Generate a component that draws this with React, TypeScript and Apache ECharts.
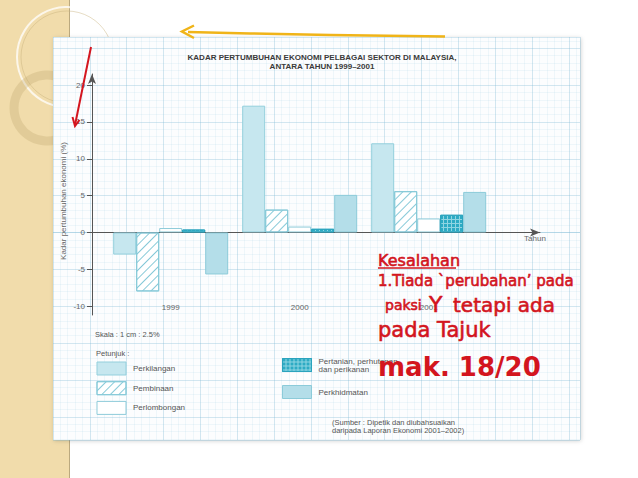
import React, { useEffect, useRef } from "react";
import * as echarts from "echarts";

// ---- data ----
const years = ["1999", "2000", "2001"];
const perkilangan = [-3.0, 17.2, 12.1];
const pembinaan = [-8.0, 3.1, 5.6];
const perlombongan = [0.6, 0.8, 1.9];
const pertanian = [0.4, 0.5, 2.4];
const perkhidmatan = [-5.7, 5.1, 5.5];
const yTicks = [-10, -5, 0, 5, 10, 15, 20];

const N_KILANG = "Perkilangan";
const N_BINA = "Pembinaan";
const N_LOMBONG = "Perlombongan";
const N_TANI = "Pertanian, perhutanan\ndan perikanan";
const N_KHIDMAT = "Perkhidmatan";

const FONT = '"Liberation Sans", Arial, sans-serif';
const HAND = '"Comic Sans MS", "DejaVu Sans", sans-serif';
const RED = "#d3151e";

const MAJOR = "rgba(120,185,210,0.32)";
const MINOR = "rgba(150,200,222,0.13)";

const paperX = (gi: number) => ({
  gridIndex: gi,
  type: "value",
  min: 0,
  max: 71.5,
  interval: 5,
  axisLine: { show: false },
  axisTick: { show: false },
  axisLabel: { show: false },
  minorTick: { show: false, splitNumber: 5 },
  splitLine: { show: true, lineStyle: { color: MAJOR, width: 1 } },
  minorSplitLine: { show: true, lineStyle: { color: MINOR, width: 1 } },
});
const paperY = (gi: number, max: number, inverse: boolean) => ({
  gridIndex: gi,
  type: "value",
  min: 0,
  max,
  inverse,
  interval: 5,
  axisLine: { show: false },
  axisTick: { show: false },
  axisLabel: { show: false },
  minorTick: { show: false, splitNumber: 5 },
  splitLine: { show: true, lineStyle: { color: MAJOR, width: 1 } },
  minorSplitLine: { show: true, lineStyle: { color: MINOR, width: 1 } },
});

const txt = (text: string, x: number, y: number, font: string, fill: string, align = "left", extra: any = {}, styleExtra: any = {}) => ({
  type: "text",
  x,
  y,
  z: 50,
  ...extra,
  style: { text, font, fill, textAlign: align, textVerticalAlign: "middle", ...styleExtra },
});
const hand = (text: string, x: number, y: number, size: number, bold = false) =>
  txt(text, x, y, `${bold ? "bold " : ""}${size}px ${HAND}`, RED, "left", { z: 100 }, bold ? {} : { stroke: RED, lineWidth: 0.6 });

export default function App() {
  const ref = useRef<HTMLDivElement>(null);
  useEffect(() => {
    if (!ref.current) return;
    const chart = echarts.init(ref.current, undefined, { renderer: "svg" });
    const barBase = { type: "bar", xAxisIndex: 1, yAxisIndex: 1, barWidth: 23, barGap: "0%" };
    const option: any = {
      animation: false,
      backgroundColor: "#ffffff",
      grid: [
        { left: 92, right: 98, top: 74, bottom: 163 },
        { left: 106.2, right: 144.8, top: 74, bottom: 163 },
        { left: 53, right: 58, top: 37, bottom: 245.5 },
        { left: 53, right: 58, top: 232.5, bottom: 38 },
      ],
      xAxis: [
        {
          gridIndex: 0,
          type: "value",
          min: 0,
          max: 1,
          axisLine: {
            show: true,
            onZero: true,
            symbol: ["none", "arrow"],
            symbolSize: [6, 10],
            lineStyle: { color: "#555", width: 1 },
          },
          axisTick: { show: false },
          axisLabel: { show: false },
          splitLine: { show: false },
        },
        {
          gridIndex: 1,
          type: "category",
          data: years,
          axisLine: { show: false, onZero: false },
          axisTick: { show: false },
          axisLabel: { inside: true, margin: 4, fontSize: 8, color: "#666", fontFamily: FONT },
          splitLine: { show: false },
        },
        paperX(2),
        paperX(3),
      ],
      yAxis: [
        {
          gridIndex: 0,
          type: "value",
          min: -11.2,
          max: 21.5,
          axisLine: {
            show: true,
            symbol: ["none", "arrow"],
            symbolSize: [6, 10],
            lineStyle: { color: "#555", width: 1 },
          },
          axisTick: { show: true, length: 5, customValues: yTicks, lineStyle: { color: "#555" } },
          axisLabel: { customValues: yTicks, fontSize: 8, color: "#666", margin: 7, fontFamily: FONT },
          splitLine: { show: false },
        },
        { gridIndex: 1, type: "value", min: -11.2, max: 21.5, show: false },
        paperY(2, 26.53, false),
        paperY(3, 28.15, true),
      ],
      legend: [
        {
          data: [N_KILANG, N_BINA, N_LOMBONG],
          orient: "vertical",
          left: 96.5,
          top: 361.5,
          padding: 0,
          itemWidth: 29,
          itemHeight: 13,
          itemGap: 5.7,
          icon: "rect",
          selectedMode: false,
          itemStyle: { borderWidth: 1 },
          textStyle: { fontSize: 8, color: "#555", fontFamily: FONT, padding: [0, 0, 0, 2] },
        },
        {
          data: [N_TANI, N_KHIDMAT],
          orient: "vertical",
          left: 282,
          top: 357,
          padding: 0,
          itemWidth: 29,
          itemHeight: 13,
          itemGap: 12,
          icon: "rect",
          selectedMode: false,
          itemStyle: { borderWidth: 1 },
          textStyle: { fontSize: 8, lineHeight: 8, color: "#555", fontFamily: FONT, padding: [0, 0, 0, 2] },
        },
      ],
      series: [
        {
          ...barBase,
          name: N_KILANG,
          data: perkilangan,
          itemStyle: { color: "#c6e7ef", borderColor: "#93cfdc", borderWidth: 1 },
        },
        {
          ...barBase,
          name: N_BINA,
          data: pembinaan,
          itemStyle: {
            color: "#ffffff",
            borderColor: "#86c9d8",
            borderWidth: 1,
            decal: {
              symbol: "rect",
              color: "#86c9d8",
              dashArrayX: [1, 0],
              dashArrayY: [1, 5],
              rotation: -Math.PI / 4,
            },
          },
        },
        {
          ...barBase,
          name: N_LOMBONG,
          data: perlombongan,
          itemStyle: { color: "#ffffff", borderColor: "#8dcbd9", borderWidth: 1 },
        },
        {
          ...barBase,
          name: N_TANI,
          data: pertanian,
          itemStyle: {
            color: "#8fd5e2",
            borderColor: "#2aa3bd",
            borderWidth: 1,
            decal: {
              symbol: "rect",
              symbolSize: 1,
              color: "#2eabc4",
              dashArrayX: [3, 1],
              dashArrayY: [3, 1],
            },
          },
        },
        {
          ...barBase,
          name: N_KHIDMAT,
          data: perkhidmatan,
          itemStyle: { color: "#b4dee9", borderColor: "#8ccbd9", borderWidth: 1 },
        },
      ],
      graphic: [
        // slide background strip
        { type: "rect", z: -100, shape: { x: 0, y: 0, width: 70, height: 478 }, style: { fill: "#f1dcab" } },
        { type: "line", z: -99, shape: { x1: 69.5, y1: 0, x2: 69.5, y2: 478 }, style: { stroke: "#bba97f", lineWidth: 1 } },
        { type: "circle", z: -99, shape: { cx: 67, cy: 57, r: 50 }, style: { fill: "none", stroke: "rgba(255,255,255,0.75)", lineWidth: 2 } },
        { type: "circle", z: -99, shape: { cx: 67, cy: 57, r: 46 }, style: { fill: "none", stroke: "rgba(200,178,125,0.45)", lineWidth: 1 } },
        { type: "circle", z: -99, shape: { cx: 47, cy: 108, r: 33 }, style: { fill: "none", stroke: "rgba(190,165,110,0.3)", lineWidth: 9 } },
        // paper
        {
          type: "rect",
          z: -98,
          shape: { x: 53, y: 37, width: 527, height: 403 },
          style: { fill: "#fcfdfe", shadowBlur: 4, shadowColor: "rgba(0,0,0,0.18)", shadowOffsetX: 1, shadowOffsetY: 1 },
        },
        // chart texts
        txt("KADAR PERTUMBUHAN EKONOMI PELBAGAI SEKTOR DI MALAYSIA,", 322, 57, `bold 8px ${FONT}`, "#3a3a3a", "center"),
        txt("ANTARA TAHUN 1999\u20132001", 322, 66, `bold 8px ${FONT}`, "#3a3a3a", "center"),
        txt("Kadar pertumbuhan ekonomi (%)", 63, 201, `8px ${FONT}`, "#666", "center", { rotation: Math.PI / 2 }),
        txt("Tahun", 535, 238, `8px ${FONT}`, "#666", "center"),
        txt("Skala : 1 cm : 2.5%", 95, 334, `7.5px ${FONT}`, "#555"),
        txt("Petunjuk :", 96, 353, `7.5px ${FONT}`, "#555"),
        txt("(Sumber : Dipetik dan diubahsuaikan", 332, 422, `7.5px ${FONT}`, "#555"),
        txt("daripada Laporan Ekonomi 2001\u20132002)", 332, 430, `7.5px ${FONT}`, "#555"),
        // annotations
        { type: "polyline", z: 100, shape: { points: [[445, 36.5], [330, 35], [250, 33.5], [188, 32]] }, style: { stroke: "#f0b418", lineWidth: 2.5, fill: "none" } },
        { type: "polyline", z: 100, shape: { points: [[194, 25.5], [182, 31.5], [194, 38]] }, style: { stroke: "#f0b418", lineWidth: 2.5, fill: "none" } },
        { type: "line", z: 100, shape: { x1: 91, y1: 47, x2: 75, y2: 125 }, style: { stroke: "#d4161f", lineWidth: 2 } },
        { type: "polyline", z: 100, shape: { points: [[72.5, 117], [75, 126], [79.5, 120]] }, style: { stroke: "#d4161f", lineWidth: 2, fill: "none" } },
        hand("Kesalahan", 378, 260, 16),
        { type: "line", z: 100, shape: { x1: 378, y1: 268, x2: 456, y2: 268 }, style: { stroke: RED, lineWidth: 1.5 } },
        hand("1.Tiada `perubahan\u2019 pada", 378, 281, 15),
        hand("paksi", 385, 305, 14),
        hand("Y", 429, 304, 22),
        hand("tetapi ada", 453, 305, 20),
        hand("pada Tajuk", 378, 330, 21),
        hand("mak. 18/20", 378, 367, 26, true),
      ],
    };
    chart.setOption(option);
    return () => chart.dispose();
  }, []);
  return <div ref={ref} style={{ position: "fixed", left: 0, top: 0, width: 638, height: 478 }} />;
}
